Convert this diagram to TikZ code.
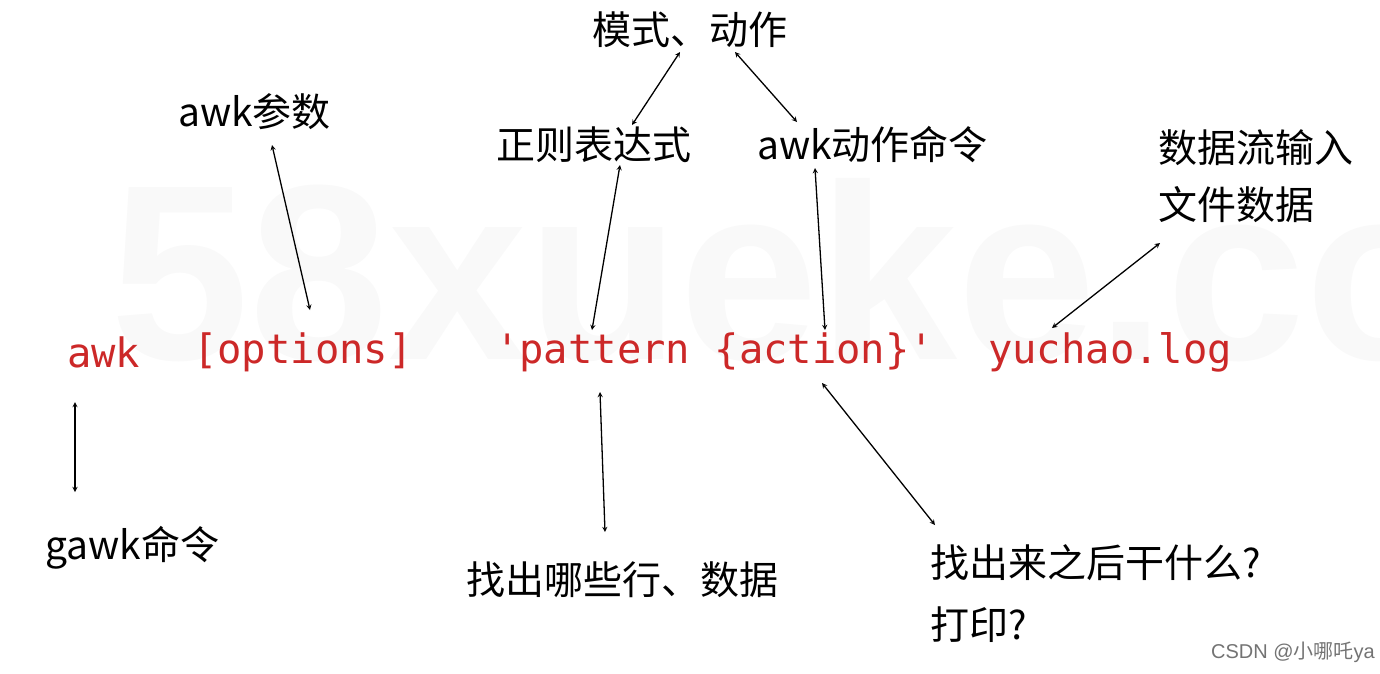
\documentclass[tikz,border=0pt]{standalone}
\usepackage{fontspec}
\newfontfamily\cjk{Noto Sans CJK SC}
\newfontfamily\mono{DejaVu Sans Mono}
\newfontfamily\csdn{Liberation Sans}
\definecolor{codered}{RGB}{204,40,40}
\begin{document}
\begin{tikzpicture}[x=1pt,y=-1pt,
  lab/.style={font=\cjk\fontsize{39}{46}\selectfont,inner sep=0pt,anchor=west},
  code/.style={font=\mono\fontsize{40.5}{46}\selectfont,text=codered,inner sep=0pt,anchor=west},
  arr/.style={<->,>=stealth,line width=1.3pt,black}]
\useasboundingbox (0,0) rectangle (1380,673);
\begin{scope}
\clip (0,0) rectangle (1380,673);
\node[font=\csdn\bfseries\fontsize{250}{250}\selectfont,text=black!2.5,anchor=west,inner sep=0pt] (wm) at (110,270) {58xueke.co};
\end{scope}
\node[code] (awk) at (67,352) {awk};
\node[code] (opt) at (193,352) {[options]};
\node[code] (pat) at (495,352) {'pattern \{action\}'};
\node[code] (log) at (988,352) {yuchao.log};
\node[lab] (mode) at (592,30) {模式、动作};
\node[lab] (par) at (178,112) {awk参数};
\node[lab] (re) at (496,145) {正则表达式};
\node[lab] (act) at (757,145) {awk动作命令};
\node[lab] (in1) at (1158,148) {数据流输入};
\node[lab] (in2) at (1158,205) {文件数据};
\node[lab] (gawk) at (45,548) {gawk命令};
\node[lab] (find) at (466,580) {找出哪些行、数据};
\node[lab] (what) at (930,563) {找出来之后干什么?};
\node[lab] (prt) at (930,625) {打印?};
\node[font=\csdn\fontsize{20}{24}\selectfont,text=black!55,anchor=east,inner sep=0pt] (src) at (1375,652) {CSDN @{\cjk 小哪吒}ya};
\coordinate (a1) at (75,402); \coordinate (a2) at (75,492);
\coordinate (b1) at (272,145); \coordinate (b2) at (310,310);
\coordinate (c1) at (620,165); \coordinate (c2) at (592,330);
\coordinate (d1) at (680,52); \coordinate (d2) at (632,125);
\coordinate (e1) at (735,52); \coordinate (e2) at (797,122);
\coordinate (f1) at (815,168); \coordinate (f2) at (825,330);
\coordinate (g1) at (1052,328); \coordinate (g2) at (1160,243);
\coordinate (h1) at (600,392); \coordinate (h2) at (605,532);
\coordinate (i1) at (822,383); \coordinate (i2) at (935,525);
\foreach \p in {a,b,c,d,e,f,g,h,i} \draw[arr] (\p1) -- (\p2);
\end{tikzpicture}
\end{document}
